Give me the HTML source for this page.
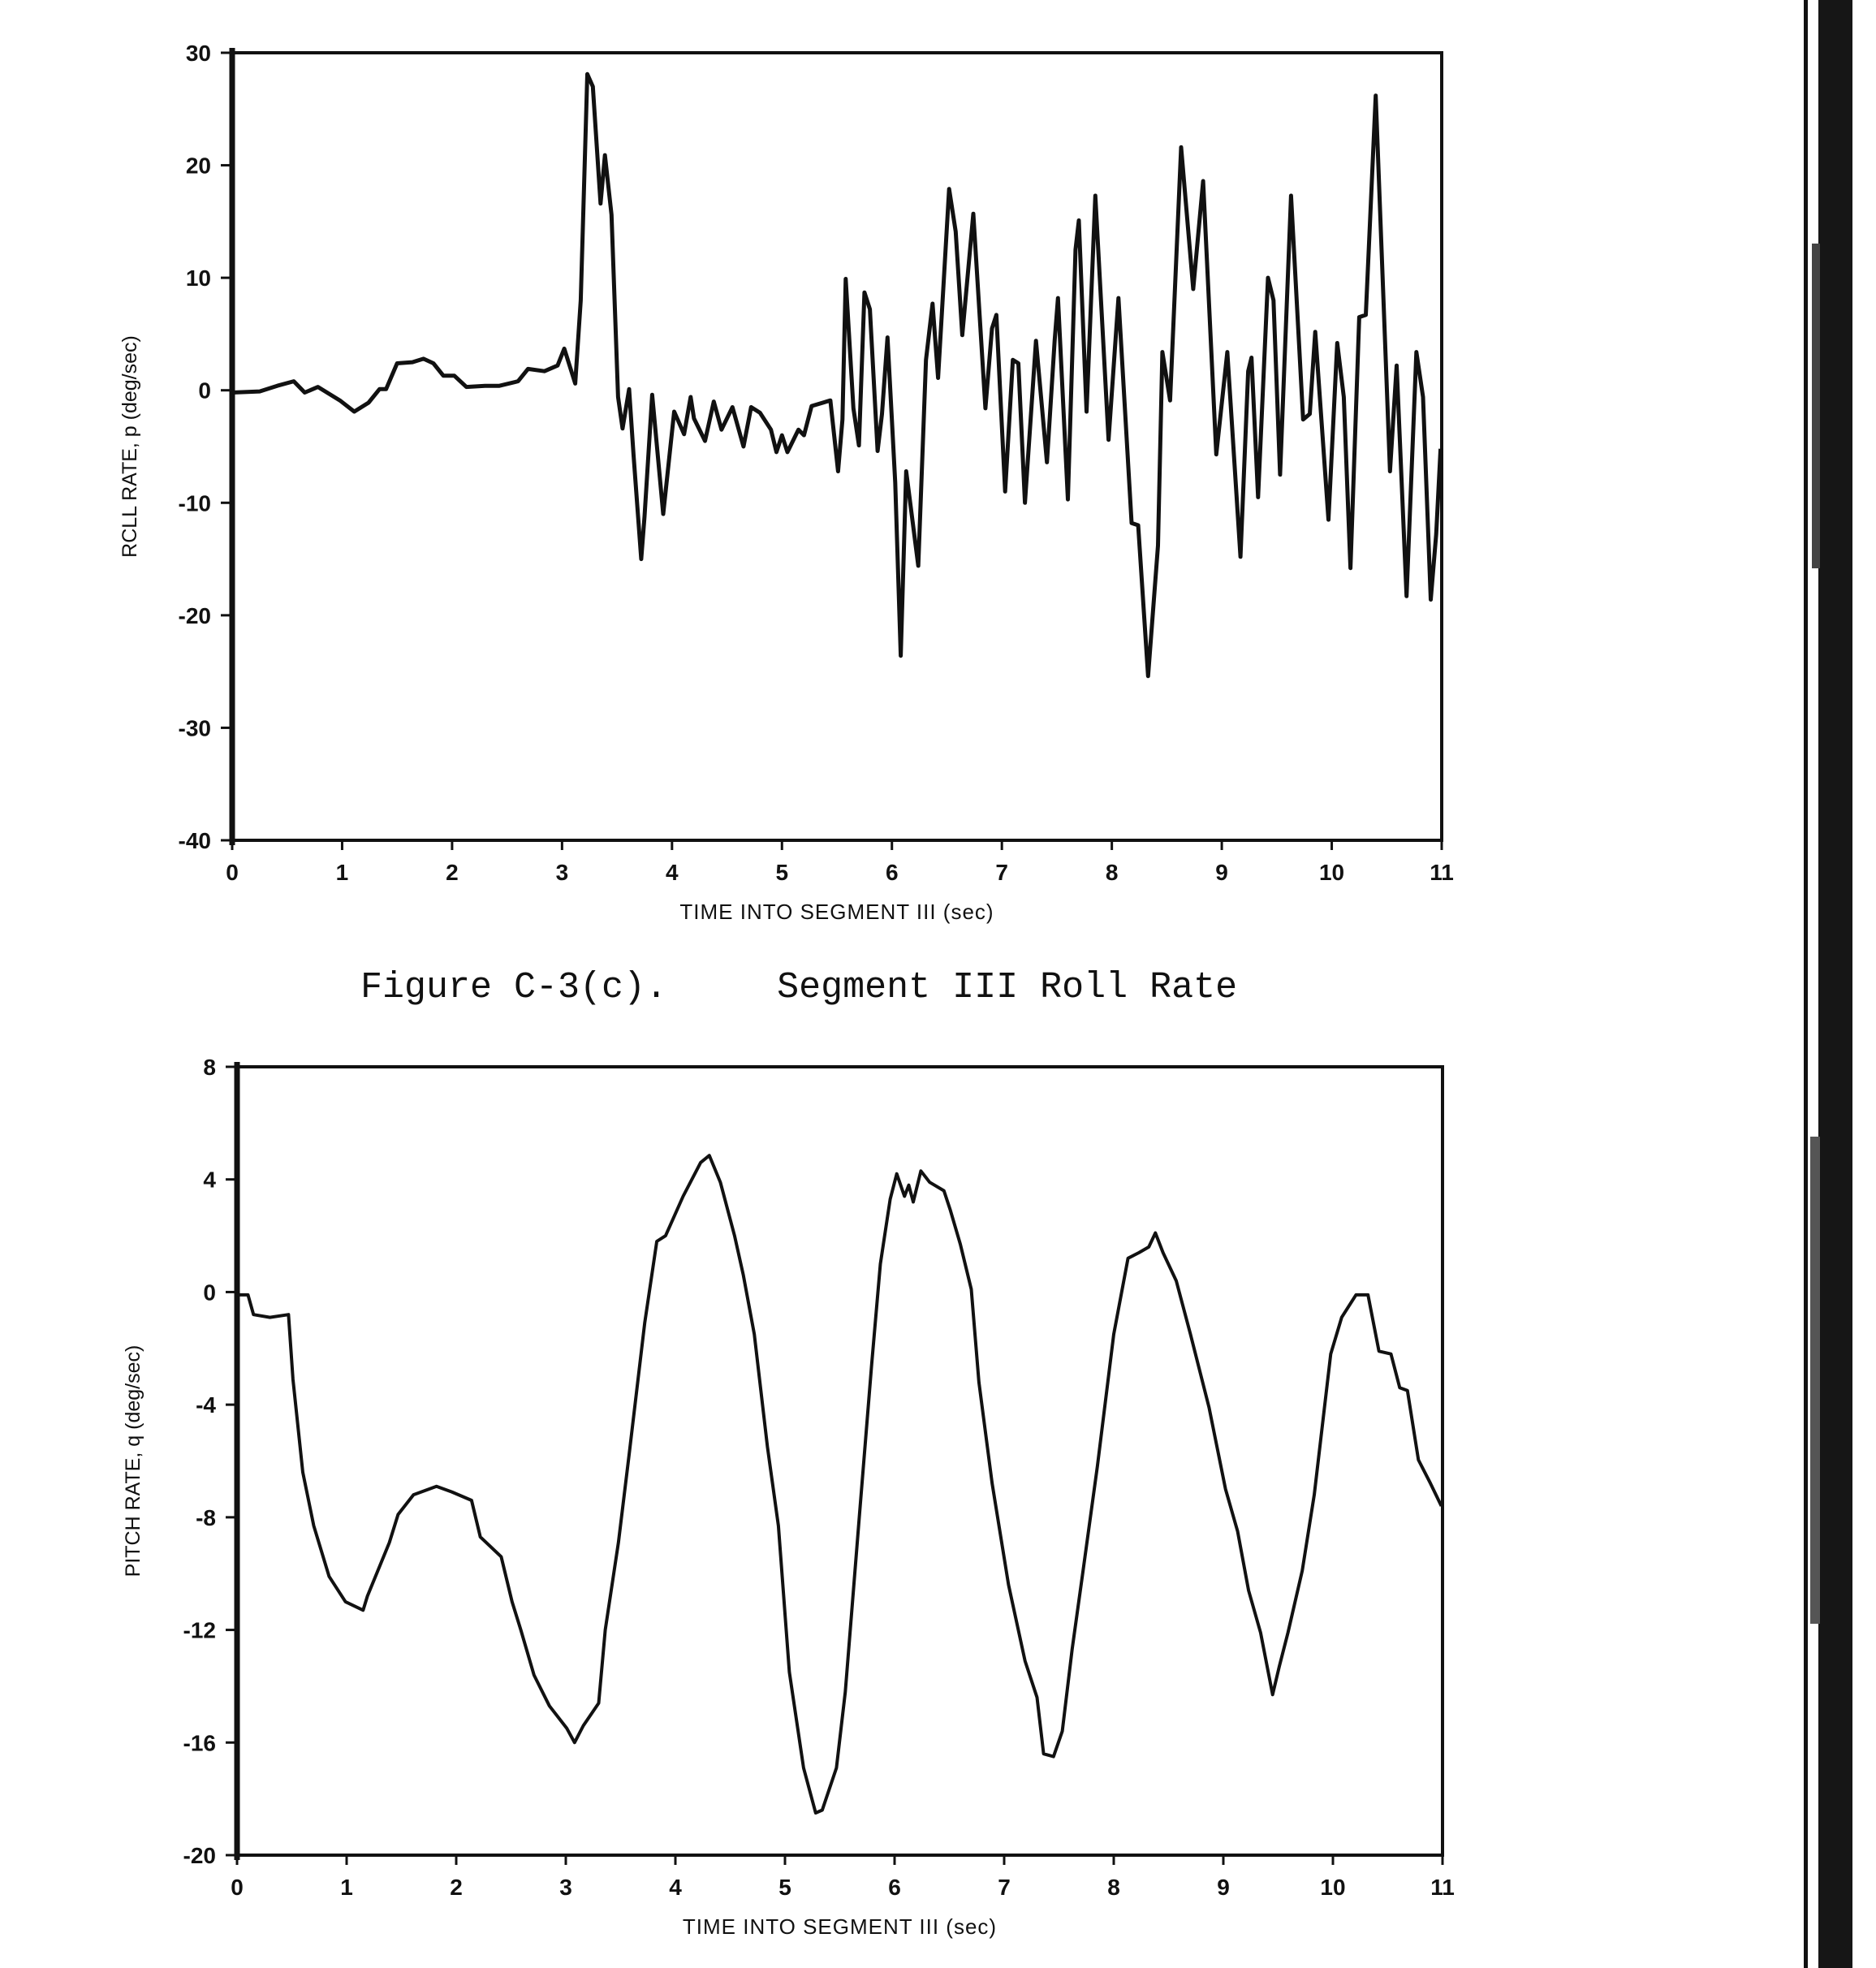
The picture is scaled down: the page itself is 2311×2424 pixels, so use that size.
<!DOCTYPE html>
<html><head><meta charset="utf-8"><style>
html,body{margin:0;padding:0;background:#fff}
svg{display:block}
text{font-family:"Liberation Sans",sans-serif;fill:#111}
</style></head><body>
<svg id="page" width="2311" height="2424" viewBox="0 0 2311 2424" xmlns="http://www.w3.org/2000/svg">
<rect width="2311" height="2424" fill="#fff"/>
<g id="scan-edge">
<rect x="2222" y="0" width="5" height="2424" fill="#111"/>
<rect x="2240" y="0" width="42" height="2424" fill="#161616"/>
<rect x="2232" y="300" width="10" height="400" fill="#444"/>
<rect x="2230" y="1400" width="12" height="600" fill="#555"/>
</g>
<g id="roll-chart"></g>
<text x="444" y="1228" style="font-family:'Liberation Mono',monospace;font-size:45px;white-space:pre" xml:space="preserve">Figure C-3(c).     Segment III Roll Rate</text>
<g id="pitch-chart"></g>
</svg>
<script>
const rollT=[0,0.25,0.41,0.56,0.66,0.78,0.98,1.11,1.24,1.34,1.40,1.50,1.64,1.74,1.83,1.92,2.02,2.13,2.30,2.43,2.60,2.69,2.84,2.96,3.02,3.12,3.17,3.23,3.28,3.35,3.39,3.45,3.51,3.55,3.61,3.65,3.72,3.75,3.82,3.92,4.02,4.11,4.17,4.2,4.3,4.38,4.45,4.55,4.65,4.72,4.8,4.9,4.95,5.0,5.05,5.15,5.2,5.27,5.44,5.51,5.55,5.58,5.65,5.70,5.75,5.80,5.87,5.91,5.96,6.03,6.08,6.13,6.24,6.31,6.37,6.42,6.52,6.58,6.64,6.74,6.85,6.91,6.95,7.03,7.10,7.15,7.21,7.31,7.41,7.48,7.51,7.60,7.67,7.70,7.77,7.85,7.97,8.06,8.18,8.24,8.33,8.42,8.46,8.53,8.63,8.74,8.83,8.95,9.05,9.17,9.24,9.27,9.33,9.42,9.47,9.53,9.63,9.74,9.80,9.85,9.97,10.05,10.11,10.17,10.25,10.31,10.40,10.53,10.59,10.68,10.77,10.83,10.90,10.95,10.99];
const rollV=[-0.2,-0.1,0.4,0.8,-0.2,0.3,-0.9,-1.9,-1.1,0.1,0.1,2.4,2.5,2.8,2.4,1.3,1.3,0.3,0.4,0.4,0.8,1.9,1.7,2.2,3.7,0.6,8.0,28.1,27.0,16.6,20.9,15.6,-0.6,-3.4,0.1,-5.7,-15.0,-11.2,-0.4,-11.0,-1.9,-3.9,-0.6,-2.5,-4.5,-1,-3.5,-1.5,-5,-1.5,-2,-3.5,-5.5,-4,-5.5,-3.5,-4,-1.4,-0.9,-7.2,-2.6,9.9,-1.6,-4.9,8.7,7.2,-5.4,-2.1,4.7,-8.2,-23.6,-7.2,-15.6,2.7,7.7,1.1,17.9,14.1,4.9,15.7,-1.6,5.5,6.7,-9.0,2.7,2.4,-10.0,4.4,-6.4,4.4,8.2,-9.7,12.5,15.1,-1.9,17.3,-4.4,8.2,-11.8,-12.0,-25.4,-13.8,3.4,-0.9,21.6,9.0,18.6,-5.7,3.4,-14.8,1.7,2.9,-9.5,10.0,8.0,-7.5,17.3,-2.6,-2.1,5.2,-11.5,4.2,-0.6,-15.8,6.5,6.7,26.2,-7.2,2.2,-18.3,3.4,-0.6,-18.6,-12.8,-5.2];
const pitchT=[0,0.10,0.15,0.30,0.47,0.51,0.60,0.70,0.84,0.99,1.15,1.19,1.39,1.47,1.61,1.82,1.96,2.14,2.22,2.41,2.51,2.59,2.71,2.85,3.01,3.08,3.16,3.30,3.36,3.48,3.58,3.72,3.83,3.91,4.07,4.23,4.31,4.41,4.54,4.62,4.72,4.84,4.94,5.04,5.17,5.28,5.34,5.47,5.55,5.68,5.79,5.87,5.96,6.02,6.09,6.13,6.17,6.24,6.32,6.45,6.51,6.60,6.70,6.77,6.89,7.04,7.19,7.30,7.36,7.45,7.53,7.62,7.72,7.85,8.00,8.13,8.23,8.32,8.38,8.45,8.57,8.70,8.87,9.02,9.13,9.23,9.34,9.45,9.51,9.59,9.72,9.83,9.98,10.08,10.21,10.32,10.42,10.53,10.61,10.68,10.78,10.89,10.99];
const pitchV=[-0.1,-0.1,-0.8,-0.9,-0.8,-3.1,-6.4,-8.3,-10.1,-11,-11.3,-10.8,-8.9,-7.9,-7.2,-6.9,-7.1,-7.4,-8.7,-9.4,-11,-12,-13.6,-14.7,-15.5,-16,-15.4,-14.6,-12,-8.9,-5.7,-1.1,1.8,2.0,3.4,4.6,4.85,3.9,2.0,0.6,-1.5,-5.5,-8.3,-13.5,-16.9,-18.5,-18.4,-16.9,-14.2,-7.9,-2.6,1.0,3.3,4.2,3.4,3.8,3.2,4.3,3.9,3.6,2.9,1.7,0.1,-3.2,-6.8,-10.4,-13.1,-14.4,-16.4,-16.5,-15.6,-12.7,-9.9,-6.2,-1.5,1.2,1.4,1.6,2.1,1.4,0.4,-1.5,-4.1,-7.0,-8.5,-10.6,-12.1,-14.3,-13.3,-12.1,-9.9,-7.2,-2.2,-0.9,-0.1,-0.1,-2.1,-2.2,-3.4,-3.5,-5.96,-6.8,-7.6];
const xTicks=[0,1,2,3,4,5,6,7,8,9,10,11];
const rollTicks=[30,20,10,0,-10,-20,-30,-40];
const pitchTicks=[8,4,0,-4,-8,-12,-16,-20];

const NS='http://www.w3.org/2000/svg';
function mk(parent,tag,attrs){const e=document.createElementNS(NS,tag);for(const k in attrs)e.setAttribute(k,attrs[k]);parent.appendChild(e);return e;}

function drawChart(g,cfg){
  const sx=t=>cfg.x0+(t-0)*(cfg.x1-cfg.x0)/11;
  const sy=v=>cfg.y0+(cfg.yMax-v)*(cfg.y1-cfg.y0)/(cfg.yMax-cfg.yMin);
  const frame=mk(g,'rect',{x:cfg.x0,y:cfg.y0,width:cfg.x1-cfg.x0,height:cfg.y1-cfg.y0,fill:'none',stroke:'#111','stroke-width':4});
  
  
  const la=mk(g,'line',{x1:cfg.x0,y1:cfg.y0-6,x2:cfg.x0,y2:cfg.y1+6,stroke:'#111','stroke-width':7});
  
  
  cfg.yTicks.forEach(v=>{
    const y=sy(v);
    const tl=mk(g,'line',{x1:cfg.x0-14,y1:y,x2:cfg.x0,y2:y,stroke:'#111','stroke-width':3});
    
    
    const tx=mk(g,'text',{x:cfg.x0-26,y:y+10,'text-anchor':'end','font-size':28,'font-weight':'bold'});
    tx.textContent=String(v);
    
    
  });
  xTicks.forEach(t=>{
    const x=sx(t);
    const tl=mk(g,'line',{x1:x,y1:cfg.y1,x2:x,y2:cfg.y1+12,stroke:'#111','stroke-width':3});
    
    
    const tx=mk(g,'text',{x:x,y:cfg.y1+49,'text-anchor':'middle','font-size':28,'font-weight':'bold'});
    tx.textContent=String(t);
    
    
  });
  const xt=mk(g,'text',{x:(cfg.x0+cfg.x1)/2,y:cfg.y1+97,'text-anchor':'middle','font-size':26,'letter-spacing':'1'});
  xt.textContent='TIME INTO SEGMENT III (sec)';
  
  
  const cy=(cfg.y0+cfg.y1)/2;
  const yt=mk(g,'text',{x:cfg.titleX,y:cy,'text-anchor':'middle','font-size':25,transform:'rotate(-90 '+cfg.titleX+' '+cy+')'});
  yt.textContent=cfg.yTitle;
  
  
  let d='';
  cfg.T.forEach((t,i)=>{d+=(i?'L':'M')+sx(t).toFixed(1)+' '+sy(cfg.V[i]).toFixed(1);});
  const p=mk(g,'path',{d:d,fill:'none',stroke:'#111','stroke-width':cfg.lw,'stroke-linejoin':'round'});
  
  
}
drawChart(document.getElementById('roll-chart'),{x0:286,x1:1776,y0:65,y1:1035,yMax:30,yMin:-40,yTicks:rollTicks,T:rollT,V:rollV,titleX:168,yTitle:'RCLL RATE, p (deg/sec)',lw:5,seriesName:'roll-rate-line'});
drawChart(document.getElementById('pitch-chart'),{x0:292,x1:1777,y0:1314,y1:2285,yMax:8,yMin:-20,yTicks:pitchTicks,T:pitchT,V:pitchV,titleX:172,yTitle:'PITCH RATE, q (deg/sec)',lw:4,seriesName:'pitch-rate-line'});
</script>
</body></html>
